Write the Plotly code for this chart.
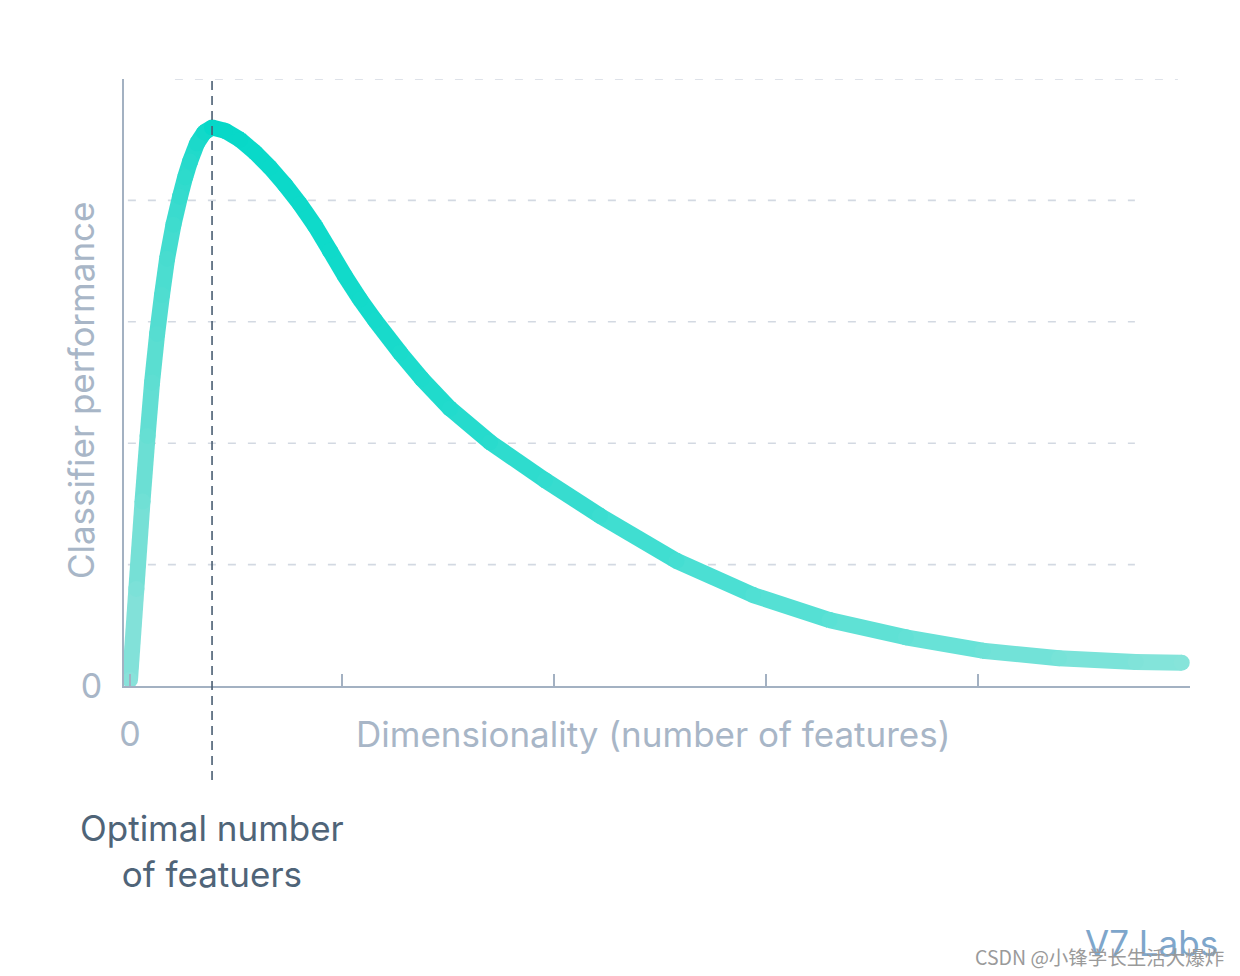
import plotly.graph_objects as go

# ---------------- data ----------------
dim_x = [0, 0.03, 0.059, 0.083, 0.104, 0.128, 0.151, 0.175, 0.205, 0.236, 0.26, 0.283,
         0.316, 0.35, 0.387, 0.448, 0.519, 0.59, 0.66, 0.731, 0.802, 0.873, 0.943,
         1.014, 1.085, 1.156, 1.274, 1.376, 1.509, 1.698, 1.958, 2.217, 2.578,
         2.939, 3.30, 3.66, 4.022, 4.382, 4.744, 4.961]
perf_y = [0.05, 0.80, 1.52, 2.06, 2.50, 2.90, 3.22, 3.52, 3.80, 4.03, 4.19, 4.32,
          4.47, 4.56, 4.60, 4.574, 4.50, 4.395, 4.272, 4.129, 3.969, 3.79, 3.586,
          3.376, 3.185, 3.012, 2.745, 2.531, 2.286, 2.008, 1.695, 1.402, 1.031,
          0.749, 0.543, 0.401, 0.291, 0.228, 0.198, 0.192]

x_tickvals = [0, 1, 2, 3, 4, 5]
x_ticktext = ["0", "", "", "", "", ""]
y_tickvals = [0]
y_ticktext = ["0"]
grid_levels = [1, 2, 3, 4]
top_grid_level = 5
optimal_x = 0.387

x_title = "Dimensionality (number of features)"
y_title = "Classifier performance"
optimal_label = "Optimal number<br>of featuers"
brand = "V7 Labs"
watermark = "CSDN @小锋学长生活大爆炸"

# colour gradient (horizontal) along the curve
grad_x = [0, 0.1, 0.387, 1.0, 2.0, 3.0, 5.0]
grad_rgb = [(136, 226, 218), (95, 222, 210), (6, 216, 200), (16, 218, 202),
            (52, 220, 207), (82, 224, 212), (135, 228, 218)]


def grad_color(x):
    for i in range(len(grad_x) - 1):
        if grad_x[i] <= x <= grad_x[i + 1]:
            t = (x - grad_x[i]) / (grad_x[i + 1] - grad_x[i])
            c = [round(a + (b - a) * t) for a, b in zip(grad_rgb[i], grad_rgb[i + 1])]
            return "rgb({},{},{})".format(*c)
    c = grad_rgb[-1] if x > grad_x[-1] else grad_rgb[0]
    return "rgb({},{},{})".format(*c)


FONT = "Inter"
AXIS_COL = "#a3b1c2"
LABEL_COL = "#a8b6c7"
LW = 16

fig = go.Figure()

# curve as coloured segments
for i in range(len(dim_x) - 1):
    xm = (dim_x[i] + dim_x[i + 1]) / 2
    fig.add_trace(go.Scatter(
        x=[dim_x[i], dim_x[i + 1]], y=[perf_y[i], perf_y[i + 1]],
        mode="lines", line=dict(color=grad_color(xm), width=LW),
        hoverinfo="skip", showlegend=False))

# round joins / caps
fig.add_trace(go.Scatter(
    x=dim_x, y=perf_y, mode="markers",
    marker=dict(size=LW, color=[grad_color(v) for v in dim_x], line=dict(width=0)),
    cliponaxis=False, hoverinfo="skip", showlegend=False))

shapes = []
for g in grid_levels:
    shapes.append(dict(type="line", xref="x", yref="y", x0=-0.01, x1=4.74, y0=g, y1=g,
                       line=dict(color="#d3d9e2", width=1.6, dash="8px,12px"), layer="below"))
shapes.append(dict(type="line", xref="x", yref="y", x0=0.212, x1=4.943,
                   y0=top_grid_level, y1=top_grid_level,
                   line=dict(color="#d3d9e2", width=1.6, dash="8px,12px"), layer="below"))
shapes.append(dict(type="line", xref="x", yref="paper", x0=optimal_x, x1=optimal_x,
                   y0=-0.155, y1=1.0,
                   line=dict(color="#4a5e72", width=1.6, dash="9px,6px"), layer="above"))

annotations = [
    dict(text=optimal_label, xref="x", yref="paper", x=optimal_x, y=-0.272,
         xanchor="center", yanchor="middle",
         showarrow=False, align="center", font=dict(family=FONT, size=35, color="#4f6478")),
    dict(text=x_title, xref="paper", yref="paper", x=0.497, y=-0.079,
         xanchor="center", yanchor="middle",
         showarrow=False, font=dict(family=FONT, size=35, color=LABEL_COL)),
    dict(text=y_title, xref="paper", yref="paper", x=-0.041, y=0.488, textangle=-90,
         xanchor="center", yanchor="middle",
         showarrow=False, font=dict(family=FONT, size=35, color=LABEL_COL)),
    dict(text=brand, xref="paper", yref="paper", x=0.964, y=-0.423,
         xanchor="center", yanchor="middle",
         showarrow=False, font=dict(family=FONT, size=35, color="#7ea6cb")),
    dict(text=watermark, xref="paper", yref="paper", x=0.915, y=-0.446,
         xanchor="center", yanchor="middle",
         showarrow=False, font=dict(family="Noto Sans CJK SC", size=19.5, color="#9a9a9a")),
]

fig.update_layout(
    width=1240, height=976,
    margin=dict(l=116, r=58, t=71, b=298),
    paper_bgcolor="white", plot_bgcolor="white",
    showlegend=False,
    shapes=shapes, annotations=annotations,
    xaxis=dict(range=[-0.0283, 5.0], tickvals=x_tickvals, ticktext=x_ticktext,
               ticks="inside", ticklen=12, tickwidth=2, tickcolor=AXIS_COL,
               showline=True, linecolor=AXIS_COL, linewidth=2,
               showgrid=False, zeroline=False, ticklabelstandoff=17,
               tickfont=dict(family=FONT, size=34, color=LABEL_COL)),
    yaxis=dict(range=[0, 5], tickvals=y_tickvals, ticktext=y_ticktext,
               ticks="", showline=True, linecolor=AXIS_COL, linewidth=2,
               showgrid=False, zeroline=False, ticklabelstandoff=13,
               tickfont=dict(family=FONT, size=34, color=LABEL_COL)),
)

fig.write_html("out.html")
